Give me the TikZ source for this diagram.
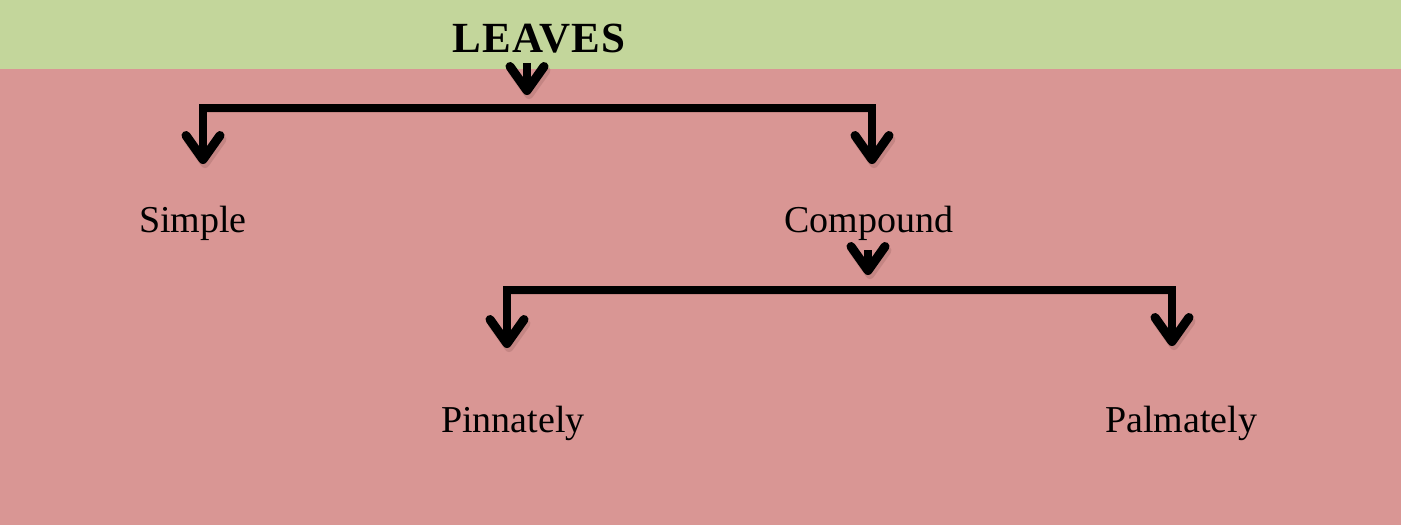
\documentclass[tikz,border=0pt]{standalone}
\usepackage{fontspec}
\setmainfont{Liberation Serif}
\usetikzlibrary{arrows.meta}
\definecolor{topgreen}{HTML}{C3D69B}
\definecolor{pinkbg}{HTML}{D99694}
\definecolor{shadowc}{HTML}{B77B79}
\begin{document}
\begin{tikzpicture}[x=1pt,y=-1pt,
  conn/.style={line width=8.5pt, line join=miter,
    -{Straight Barb[length=24pt,width=34pt,line width=9pt,round]},
    preaction={draw=shadowc, opacity=0.6, transform canvas={shift={(2pt,-4pt)}}}},
  lbl/.style={font=\fontsize{38}{40}\selectfont, inner sep=0pt, anchor=base},
  titlestyle/.style={font=\fontsize{43}{48}\bfseries\addfontfeature{LetterSpace=3}\selectfont, inner sep=0pt, anchor=base}]
\useasboundingbox (0,0) rectangle (1401,525);
\fill[pinkbg] (0,0) rectangle (1401,525);
\fill[topgreen] (0,0) rectangle (1401,69);
% nodes
\node[titlestyle] (leaves) at (539,52) {LEAVES};
\node[lbl] (simple) at (193,232) {Simple};
\node[lbl] (compound) at (869,232) {Compound};
\node[lbl] (pinnately) at (513,432) {Pinnately};
\node[lbl] (palmately) at (1181,432) {Palmately};
% junctions
\coordinate (j0) at (527,95);
\coordinate (b1) at (527,108);
\coordinate (s1) at (203,164);
\coordinate (c1) at (872,164);
\coordinate (j1) at (868,275);
\coordinate (b2) at (868,290);
\coordinate (p1) at (507,348);
\coordinate (q1) at (1172,346);
% connectors
\draw[conn, shorten <=10pt] (leaves.south -| j0) -- (j0);
\draw[conn] (b1) -| (s1);
\draw[conn] (b1) -| (c1);
\draw[conn, shorten <=10pt] (compound.south -| j1) -- (j1);
\draw[conn] (b2) -| (p1);
\draw[conn] (b2) -| (q1);
\end{tikzpicture}
\end{document}
